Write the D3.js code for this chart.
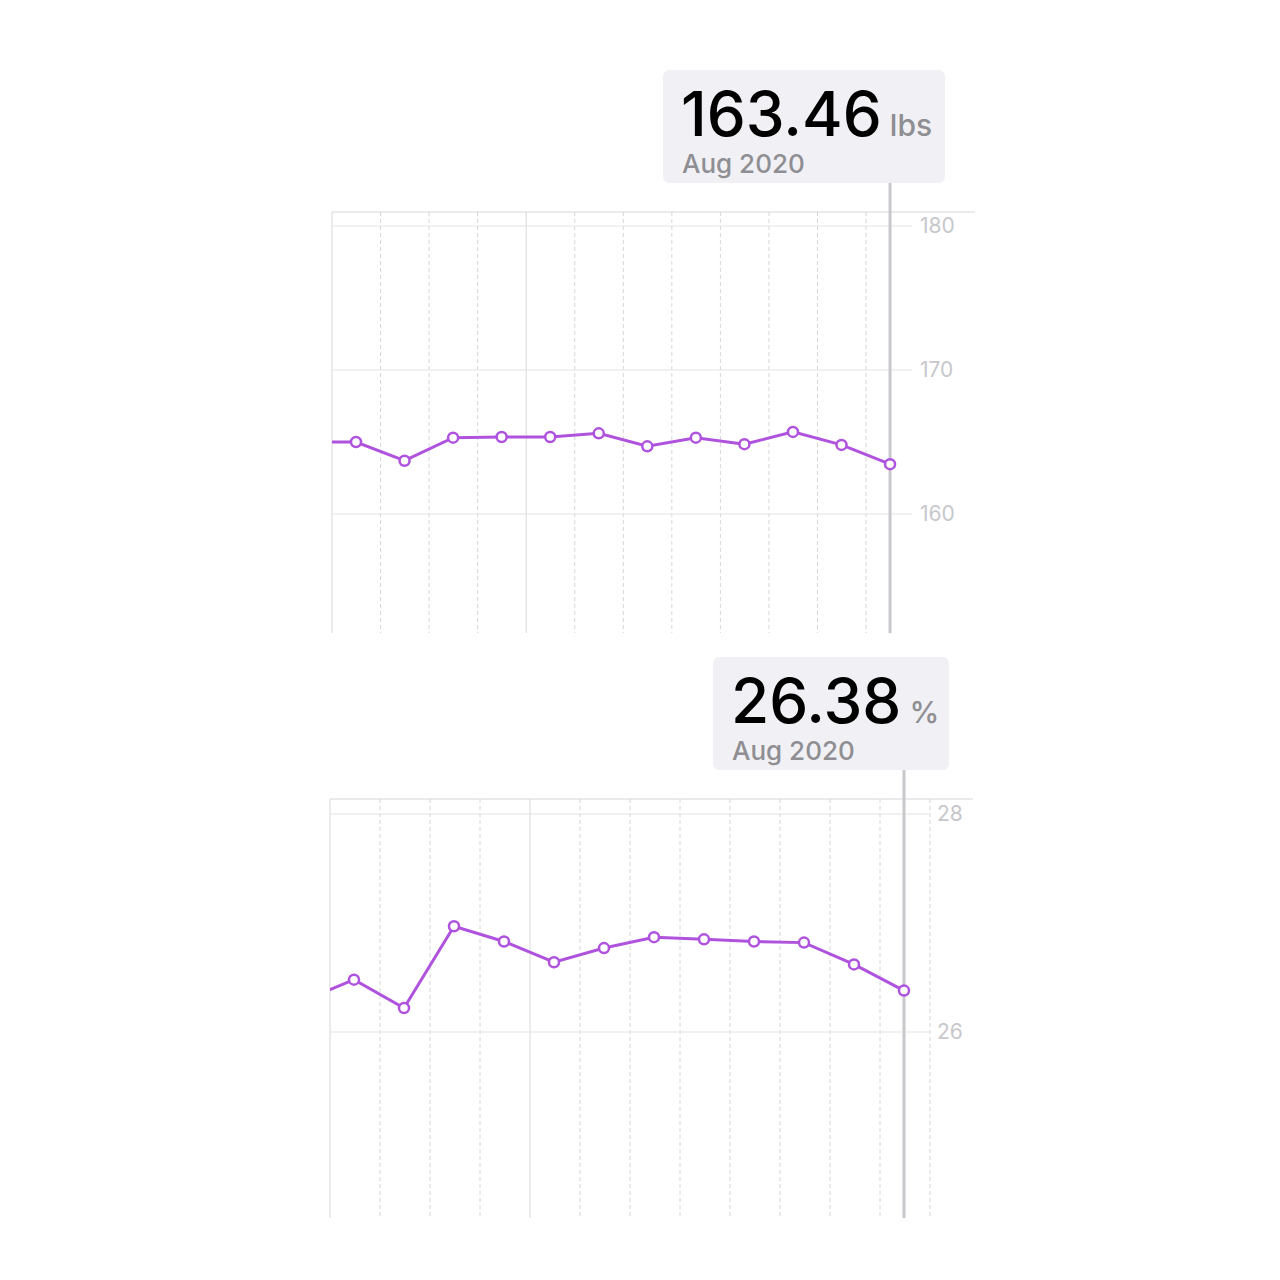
<!DOCTYPE html>
<html><head><meta charset="utf-8">
<script src="https://cdn.jsdelivr.net/npm/d3@7"></script>
<style>body{margin:0;background:#fff;font-family:Inter,"Noto Sans",sans-serif}</style>
</head><body>
<svg id="c" width="1280" height="1280"></svg>
<script>
const months = ["Jul 2019","Aug 2019","Sep 2019","Oct 2019","Nov 2019","Dec 2019","Jan 2020","Feb 2020","Mar 2020","Apr 2020","May 2020","Jun 2020","Jul 2020","Aug 2020"];
const weightValues = [165.0,165.0,163.7,165.3,165.35,165.35,165.6,164.7,165.3,164.85,165.7,164.8,163.46];
const fatValues = [26.29,26.48,26.22,26.97,26.83,26.64,26.77,26.87,26.85,26.83,26.82,26.62,26.38];
const weightTicks = [160,170,180];
const fatTicks = [26,28];

const svg = d3.select("#c");
const purple = "#af52de";

function chart(o){
  const g = svg.append("g");
  const n = o.values.length;
  // months aligned to end; first value is partly out of view
  const cats = months.slice(months.length - n);
  const x = d3.scalePoint().domain(cats).range([o.firstX - o.step, o.firstX + (n-2)*o.step]);
  const y = d3.scaleLinear().domain(o.domain).range(o.yrange);
  // vertical grid
  for(let k=0;k<13;k++){
    const gx = o.left + k*o.step/1;
    if (gx > o.gridEnd+1) break;
    g.append("line").attr("x1",gx).attr("x2",gx).attr("y1",o.top).attr("y2",o.bottom)
      .attr("stroke", (k===0||k===4)?"#d8d8dc":"#d6d6da").attr("stroke-width",1)
      .attr("stroke-dasharray",(k===0||k===4)?null:"4,3");
  }
  // top border
  g.append("line").attr("x1",o.left).attr("x2",o.left+643).attr("y1",o.top).attr("y2",o.top).attr("stroke","#d6d6da");
  // horizontal grid + labels
  o.ticks.forEach(t=>{
    g.append("line").attr("x1",o.left).attr("x2",o.gridEnd).attr("y1",y(t)).attr("y2",y(t)).attr("stroke","#e3e3e6");
    g.append("text").attr("x",o.gridEnd+8).attr("y",y(t)+7).text(t)
      .attr("fill","#c7c7cc").attr("font-size",21);
  });
  const clipId = "clip"+o.id;
  svg.append("clipPath").attr("id",clipId).append("rect")
    .attr("x",o.left).attr("y",o.top).attr("width",700).attr("height",o.bottom-o.top);
  // cursor
  const lx = x(cats[n-1]);
  g.append("line").attr("x1",lx).attr("x2",lx).attr("y1",o.boxY+113).attr("y2",o.bottom)
    .attr("stroke","#c8c7cc").attr("stroke-width",3);
  const pg = g.append("g").attr("clip-path",`url(#${clipId})`);
  const data = o.values.map((v,i)=>({c:cats[i],v}));
  pg.append("path").datum(data).attr("fill","none").attr("stroke",purple).attr("stroke-width",3)
    .attr("d",d3.line().x(d=>x(d.c)).y(d=>y(d.v)));
  pg.selectAll("circle").data(data).join("circle").attr("cx",d=>x(d.c)).attr("cy",d=>y(d.v))
    .attr("r",5).attr("fill","#fff").attr("stroke",purple).attr("stroke-width",2.5);
  // tooltip
  g.append("rect").attr("x",o.boxX).attr("y",o.boxY).attr("width",o.boxW).attr("height",113).attr("rx",6).attr("fill","#f1f1f5");
  const t = g.append("text").attr("x",o.boxX+18).attr("y",o.boxY+66);
  t.append("tspan").text(o.values[n-1].toFixed(2)).attr("font-size",62).attr("fill","#000").attr("font-weight",500);
  t.append("tspan").text(" "+o.unit).attr("font-size",30).attr("fill","#8e8e93").attr("font-weight",500);
  g.append("text").attr("x",o.boxX+19).attr("y",o.boxY+103).text(cats[n-1]).attr("font-size",26).attr("fill","#8e8e93").attr("font-weight",500);
}

chart({id:1,values:weightValues,ticks:weightTicks,domain:[160,180],yrange:[514,226],
  left:332,step:48.55,firstX:356,gridEnd:912,top:212,bottom:633,
  boxX:663,boxY:70,boxW:282,unit:"lbs"});
chart({id:2,values:fatValues,ticks:fatTicks,domain:[26,28],yrange:[1032,814],
  left:330,step:50,firstX:354,gridEnd:929,top:799,bottom:1218,
  boxX:713,boxY:657,boxW:236,unit:"%"});
</script>
</body></html>
